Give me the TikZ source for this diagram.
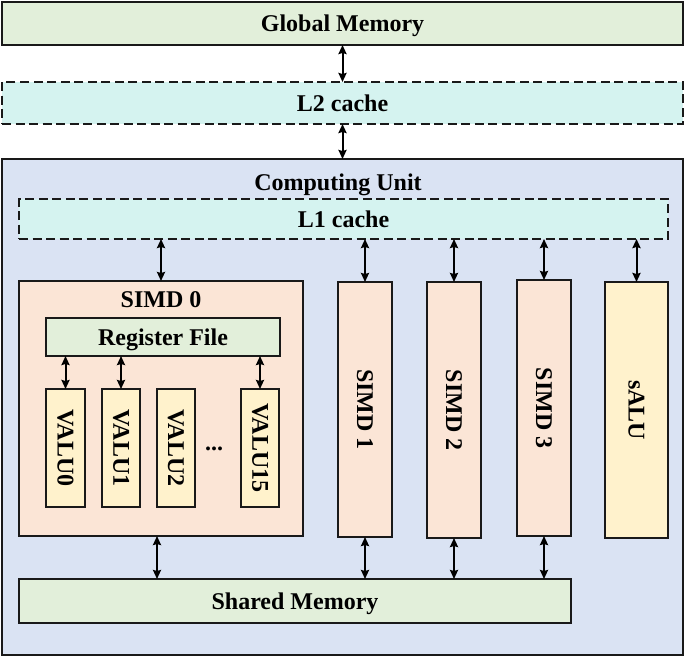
\documentclass[tikz,border=0pt]{standalone}
\usepackage{fontspec}
\setmainfont{Liberation Serif}
\usetikzlibrary{arrows.meta}
\definecolor{gmfill}{HTML}{E2EFDA}
\definecolor{cachefill}{HTML}{D5F3F0}
\definecolor{cufill}{HTML}{DAE3F3}
\definecolor{simdfill}{HTML}{FBE5D6}
\definecolor{alufill}{HTML}{FFF2CC}
\begin{document}
\begin{tikzpicture}[x=1pt,y=-1pt,
  box/.style={draw=black!90, line width=1.8pt, inner sep=0pt, outer sep=0pt, align=center,
    font=\fontsize{24}{26}\selectfont\bfseries},
  hbox/.style={box, text depth=0pt},
  cachebox/.style={hbox, fill=cachefill, dash pattern=on 9pt off 4.5pt},
  greenbox/.style={hbox, fill=gmfill},
  simdbox/.style={box, fill=simdfill},
  alubox/.style={box, fill=alufill},
  lbl/.style={font=\fontsize{24}{26}\selectfont\bfseries, inner sep=0pt, text depth=0pt},
  link/.style={line width=2pt, {Stealth[length=9pt,width=8pt,inset=1pt]}-{Stealth[length=9pt,width=8pt,inset=1pt]}}
]
\useasboundingbox (0,0) rectangle (685,656);
\node[greenbox, minimum width=681pt, minimum height=43pt] (gm) at (342.5,23.5) {Global Memory};
\node[cachebox, minimum width=681pt, minimum height=42pt] (l2) at (342.5,103) {L2 cache};
\node[box, fill=cufill, minimum width=681pt, minimum height=496pt] (cu) at (342.5,407) {};
\node[lbl] (cutitle) at (338,182) {Computing Unit};
\node[cachebox, minimum width=649pt, minimum height=40pt] (l1) at (343.5,219) {L1 cache};
\node[simdbox, minimum width=284pt, minimum height=255pt] (simd0) at (161,408.5) {};
\node[lbl] (simd0title) at (161,300) {SIMD 0};
\node[greenbox, minimum width=234pt, minimum height=38pt] (rf) at (163,337) {Register File};
\node[alubox, minimum width=39pt, minimum height=118pt] (valu0) at (65.5,448) {\rotatebox{-90}{VALU0}};
\node[alubox, minimum width=38pt, minimum height=118pt] (valu1) at (121,448) {\rotatebox{-90}{VALU1}};
\node[alubox, minimum width=38pt, minimum height=118pt] (valu2) at (176,448) {\rotatebox{-90}{VALU2}};
\node[alubox, minimum width=38pt, minimum height=118pt] (valu15) at (260,448) {\rotatebox{-90}{VALU15}};
\node[lbl] (dots) at (214,449) {...};
\node[simdbox, minimum width=54pt, minimum height=255pt] (simd1) at (365,409.5) {\rotatebox{-90}{SIMD 1}};
\node[simdbox, minimum width=54pt, minimum height=256pt] (simd2) at (454,410) {\rotatebox{-90}{SIMD 2}};
\node[simdbox, minimum width=54pt, minimum height=256pt] (simd3) at (544,408) {\rotatebox{-90}{SIMD 3}};
\node[alubox, minimum width=63pt, minimum height=256pt] (salu) at (636.5,410) {\rotatebox{-90}{sALU}};
\node[greenbox, minimum width=552pt, minimum height=44pt] (sm) at (295,601) {Shared Memory};
% links
\draw[link] (gm.south) -- (l2.north);
\draw[link] (l2.south) -- (cu.north);
\draw[link] (simd0.north |- l1.south) -- (simd0.north);
\draw[link] (simd1.north |- l1.south) -- (simd1.north);
\draw[link] (simd2.north |- l1.south) -- (simd2.north);
\draw[link] (simd3.north |- l1.south) -- (simd3.north);
\draw[link] (salu.north |- l1.south) -- (salu.north);
\draw[link] (valu0.north |- rf.south) -- (valu0.north);
\draw[link] (valu1.north |- rf.south) -- (valu1.north);
\draw[link] (valu15.north |- rf.south) -- (valu15.north);
\draw[link] ([xshift=-4pt]simd0.south) -- ([xshift=-4pt]simd0.south |- sm.north);
\draw[link] (simd1.south) -- (simd1.south |- sm.north);
\draw[link] (simd2.south) -- (simd2.south |- sm.north);
\draw[link] (simd3.south) -- (simd3.south |- sm.north);
\end{tikzpicture}
\end{document}
